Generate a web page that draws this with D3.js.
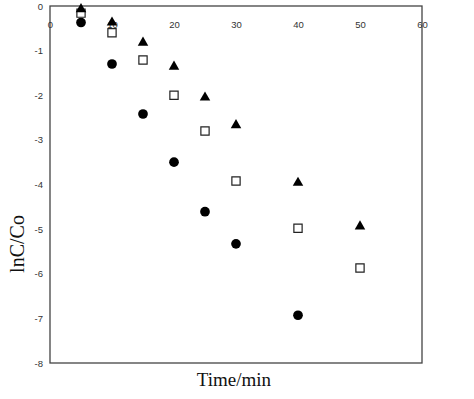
<!DOCTYPE html>
<html>
<head>
<meta charset="utf-8">
<script src="https://cdn.jsdelivr.net/npm/d3@7"></script>
<style>
  body { margin: 0; background: #fff; }
  .tick text { font-family: "Liberation Sans", Arial, sans-serif; font-size: 9.5px; fill: #333; }
</style>
</head>
<body>
<div id="chart"></div>
<script>
'use strict';

// values
var times = [5, 10, 15, 20, 25, 30, 40, 50];
var triangleVals = [-0.07, -0.37, -0.82, -1.36, -2.05, -2.67, -3.96, -4.94];
var squareVals = [-0.16, -0.60, -1.21, -2.00, -2.80, -3.92, -4.98, -5.87];
var circleTimes = [5, 10, 15, 20, 25, 30, 40];
var circleVals = [-0.37, -1.30, -2.42, -3.50, -4.61, -5.33, -6.93];
var xTicks = [0, 10, 20, 30, 40, 50, 60];
var yTicks = [0, -1, -2, -3, -4, -5, -6, -7, -8];

var width = 474;
var height = 399;

var svg = d3.select('#chart')
  .append('svg')
  .attr('width', width)
  .attr('height', height);

var x = d3.scaleLinear().domain([0, 60]).range([50, 422]);
var y = d3.scaleLinear().domain([0, -8]).range([6, 363]);

// frame
svg.append('rect')
  .attr('x', x(0))
  .attr('y', y(0))
  .attr('width', x(60) - x(0))
  .attr('height', y(-8) - y(0))
  .attr('fill', 'none')
  .attr('stroke', '#444')
  .attr('stroke-width', 1.3);

// x labels sit just under the top line
var xAxis = svg.append('g')
  .attr('transform', 'translate(0,' + y(0) + ')')
  .call(d3.axisBottom(x).tickValues(xTicks).tickSize(0).tickPadding(15)
    .tickFormat(function(d) { return String(d); }));
xAxis.select('.domain').remove();

var yAxis = svg.append('g')
  .attr('transform', 'translate(' + x(0) + ',0)')
  .call(d3.axisLeft(y).tickValues(yTicks).tickSize(0).tickPadding(7)
    .tickFormat(function(d) { return String(d); }));
yAxis.select('.domain').remove();

// series
var tri = d3.symbol().type(d3.symbolTriangle).size(48);
var sq = d3.symbol().type(d3.symbolSquare).size(68);
var circ = d3.symbol().type(d3.symbolCircle).size(74);

svg.append('g').selectAll('path')
  .data(circleTimes.map(function(t, i) { return [t, circleVals[i]]; }))
  .enter()
  .append('path')
  .attr('d', circ)
  .attr('transform', function(d) { return 'translate(' + x(d[0]) + ',' + y(d[1]) + ')'; })
  .attr('fill', '#000');

svg.append('g').selectAll('path')
  .data(times.map(function(t, i) { return [t, squareVals[i]]; }))
  .enter()
  .append('path')
  .attr('d', sq)
  .attr('transform', function(d) { return 'translate(' + x(d[0]) + ',' + y(d[1]) + ')'; })
  .attr('fill', '#fff')
  .attr('stroke', '#222')
  .attr('stroke-width', 1.2);

svg.append('g').selectAll('path')
  .data(times.map(function(t, i) { return [t, triangleVals[i]]; }))
  .enter()
  .append('path')
  .attr('d', tri)
  .attr('transform', function(d) { return 'translate(' + x(d[0]) + ',' + y(d[1]) + ')'; })
  .attr('fill', '#000');

// axis titles
svg.append('text')
  .attr('x', (x(0) + x(60)) / 2 - 2)
  .attr('y', 386)
  .attr('text-anchor', 'middle')
  .style('font-family', '"Liberation Serif", "Times New Roman", serif')
  .style('font-size', '19px')
  .style('fill', '#111')
  .text('Time/min');

svg.append('text')
  .attr('transform', 'translate(24,244) rotate(-90)')
  .attr('text-anchor', 'middle')
  .style('font-family', '"Liberation Serif", "Times New Roman", serif')
  .style('font-size', '20px')
  .style('fill', '#111')
  .text('lnC/Co');
</script>
</body>
</html>
